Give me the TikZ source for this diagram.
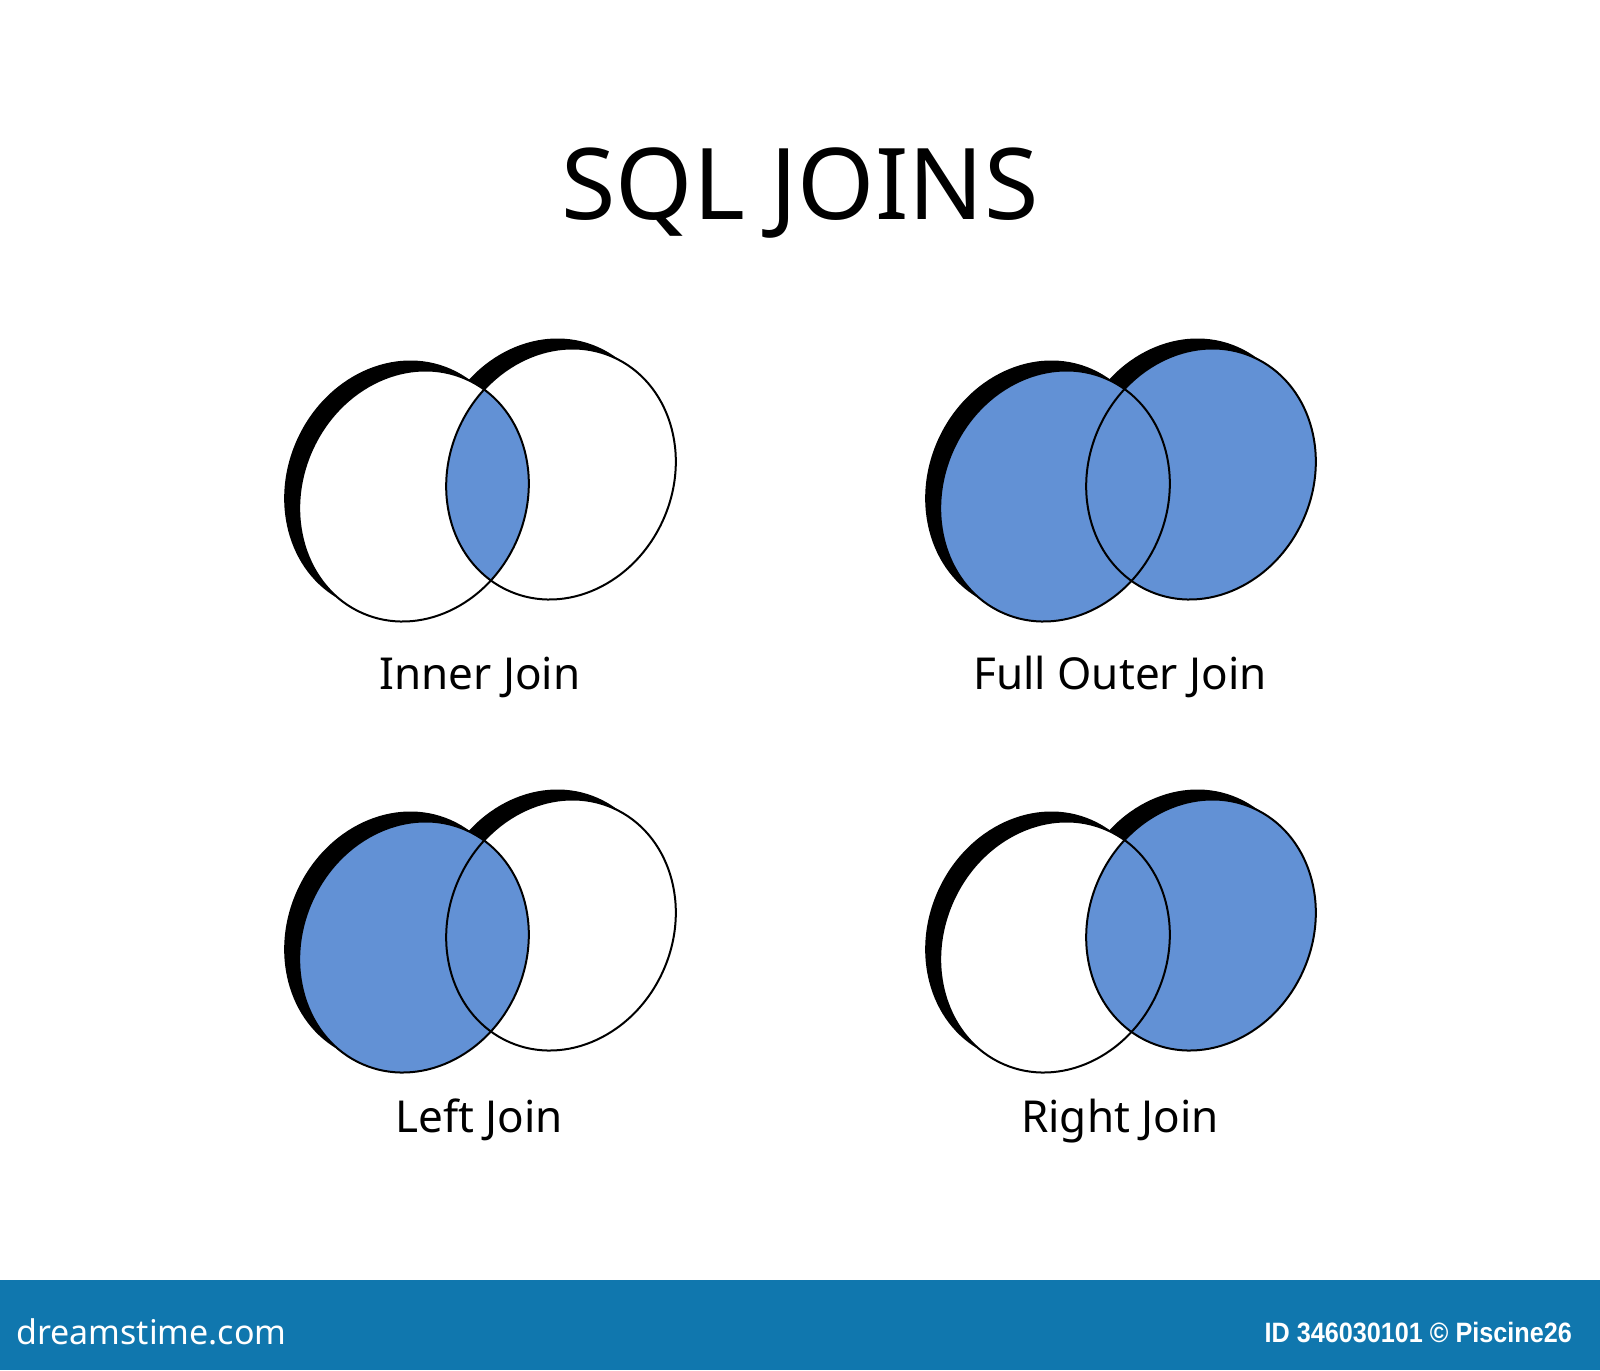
\documentclass[tikz,border=0pt]{standalone}
\usepackage{fontspec}
\setmainfont{Noto Sans}
\newfontfamily\idfont{Liberation Sans}
\definecolor{joinblue}{RGB}{98,145,213}
\definecolor{bannerblue}{RGB}{16,119,174}
\tikzset{
  outline/.style={draw=black,line width=2pt},
  joinlabel/.style={font=\fontsize{44}{50}\selectfont, anchor=base, inner sep=0pt},
  disc/.style={x radius=112, y radius=128, rotate=-24}
}
\newcommand{\jshadow}[1]{\fill[black] ([shift={(-15,-10)}]#1) ellipse [disc];}
\newcommand{\jdisc}[2]{\fill[#2] (#1) ellipse [disc];}
\newcommand{\jring}[1]{\draw[outline] (#1) ellipse [disc];}
\begin{document}
\begin{tikzpicture}[x=1pt,y=-1pt]
\useasboundingbox (0,0) rectangle (1600,1370);
\fill[white] (0,0) rectangle (1600,1370);
% banner
\fill[bannerblue] (0,1280) rectangle (1600,1370);
\node[anchor=west, text=white, inner sep=0pt, font=\fontsize{34}{40}\selectfont] (logo) at (16,1332) {dreamstime.com};
\node[anchor=east, text=white, inner sep=0pt, font=\idfont\bfseries\fontsize{28}{32}\selectfont, xscale=0.9] (id) at (1572,1332) {ID 346030101 © Piscine26};
% title
\node[anchor=base, inner sep=0pt, font=\fontsize{99}{110}\selectfont] (title) at (800,219) {SQL JOINS};
% centres
\coordinate (iL) at (414,496);  \coordinate (iR) at (561,474);
\coordinate (fL) at (1055,496); \coordinate (fR) at (1201,474);
\coordinate (lL) at (414,947);  \coordinate (lR) at (561,925);
\coordinate (rL) at (1055,947); \coordinate (rR) at (1201,925);
% shadows
\foreach \c in {iL,iR,fL,fR,lL,lR,rL,rR}{\jshadow{\c}}
% inner join
\jdisc{iR}{white}\jdisc{iL}{white}
\begin{scope}
  \clip (iL) ellipse [disc];
  \fill[joinblue] (iR) ellipse [disc];
\end{scope}
% full outer join
\jdisc{fR}{joinblue}\jdisc{fL}{joinblue}
% left join
\jdisc{lR}{white}\jdisc{lL}{joinblue}
% right join
\jdisc{rL}{white}\jdisc{rR}{joinblue}
% outlines
\foreach \c in {iL,iR,fL,fR,lL,lR,rL,rR}{\jring{\c}}
% labels
\node[joinlabel] (inner) at (480,689) {Inner Join};
\node[joinlabel] (full) at (1120,689) {Full Outer Join};
\node[joinlabel] (left) at (479,1132) {Left Join};
\node[joinlabel] (right) at (1120,1132) {Right Join};
\end{tikzpicture}
\end{document}
